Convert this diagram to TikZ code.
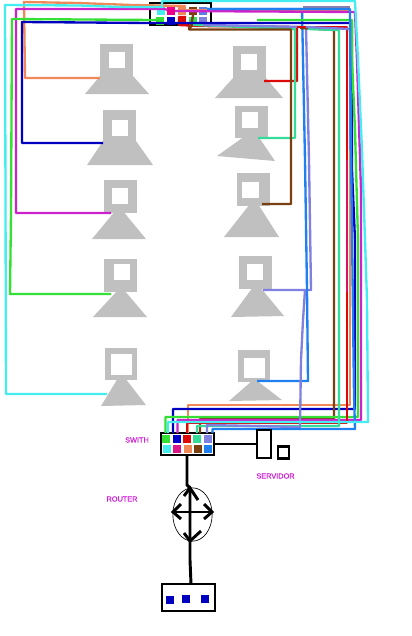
\documentclass[tikz,border=0pt]{standalone}
\usepackage{fontspec}
\usetikzlibrary{shapes.geometric}
\setmainfont{Liberation Sans}
\newfontfamily\lblfont[FakeBold=0.6]{Liberation Sans}
\definecolor{cCy}{HTML}{44EEF0}
\definecolor{cGr}{HTML}{33E033}
\definecolor{cMa}{HTML}{CC22CC}
\definecolor{cBl}{HTML}{0000C0}
\definecolor{cOr}{HTML}{F08858}
\definecolor{cRe}{HTML}{DD0808}
\definecolor{cTe}{HTML}{33DD99}
\definecolor{cPe}{HTML}{8080E0}
\definecolor{cSk}{HTML}{2080F0}
\definecolor{cBr}{HTML}{7A4010}
\definecolor{cGy}{HTML}{C0C0C0}
\definecolor{cLb}{HTML}{D022D8}
\tikzset{
  wire/.style={line width=1.75pt,line join=round},
  port/.style={minimum width=6pt,minimum height=6pt,inner sep=0pt,outer sep=0pt},
  black wire/.style={line width=2.2pt,black},
  heavy box/.style={draw=black,line width=1.7pt,fill=white,inner sep=0pt,outer sep=0pt},
  lbl/.style={text=cLb,font=\lblfont\fontsize{5.5}{6}\selectfont,inner sep=0pt},
  hub/.style={draw=black,line width=.8pt,inner sep=0pt,outer sep=0pt},
  pad/.style={fill=cBl,minimum width=6pt,minimum height=6pt,inner sep=0pt},
}
\newcommand{\pcshape}[6]{%
  \fill[cGy] #5;
  \fill[cGy] (#1,#2) rectangle (#3,#4);
  \fill[white] #6;
}
\begin{document}
\begin{tikzpicture}[x=0.75pt,y=-0.75pt]
\useasboundingbox (0,0) rectangle (411,636);
\fill[white] (0,0) rectangle (411,636);
% computers
\pcshape{100}{44}{133}{78}{(85,94)--(149,94)--(133,76)--(100,76)--cycle}{(109,52) rectangle (125,68)}
\pcshape{103}{110}{136}{143}{(87,165)--(153,165)--(136,141)--(103,141)--cycle}{(112,120) rectangle (128,136)}
\pcshape{104}{180}{137}{213}{(92,239)--(146,239)--(122,210)--(116,210)--cycle}{(112,188) rectangle (128,204)}
\pcshape{104}{259}{137}{292}{(93,317)--(147,317)--(124,290)--(118,290)--cycle}{(114,264) rectangle (130,280)}
\pcshape{105}{348}{137}{380}{(101,406)--(146,405)--(125,378)--(118,378)--cycle}{(111,354) rectangle (132,375)}
\pcshape{233}{46}{266}{79}{(215,98)--(283,98)--(266,78)--(233,78)--cycle}{(241,54) rectangle (257,70)}
\pcshape{235}{106}{268}{138}{(217,156)--(275,161)--(258,136)--(245,136)--cycle}{(242,112) rectangle (258,128)}
\pcshape{237}{173}{270}{206}{(224,237)--(279,237)--(258,204)--(250,204)--cycle}{(242,182) rectangle (259,198)}
\pcshape{239}{256}{272}{289}{(231,317)--(284,316)--(260,287)--(253,287)--cycle}{(247,264) rectangle (263,280)}
\pcshape{238}{350}{270}{382}{(229,401)--(282,400)--(256,380)--(253,380)--cycle}{(244,358) rectangle (265,378)}
% named wire ends at the computers
\coordinate (a1) at (100,78);
\coordinate (a2) at (103,143);
\coordinate (a3) at (111,213);
\coordinate (a4) at (111,294);
\coordinate (a5) at (107,394);
\coordinate (b1) at (264,81);
\coordinate (b2) at (258,138);
\coordinate (b3) at (262,204);
\coordinate (b4) at (263,290);
\coordinate (b5) at (257,381);
% top switch
\node[hub,minimum width=45.75pt,minimum height=16.5pt] (tsw) at (180.5,14) {};
\foreach \n/\x/\y/\c in {tCy/160.5/11/cCy,tMa/171/11/magenta,tOr/182/11/cOr,tBr/193/11/cBr,tSk/203/11/cPe!60!cSk,
                         tGr/160/21/cGr,tBl/171/21/cBl,tRe/182/21/cRe,tTe/193/21/cGr!60!cTe,tPe/203/21/cPe}
  \node[port,fill=\c] (\n) at (\x,\y) {};
% bottom switch
\node[hub,minimum width=39.75pt,minimum height=16.5pt,fill=white] (bsw) at (187.5,444) {};
\foreach \n/\x/\y/\c in {dGr/165.5/438.5/cGr,dBl/176.5/438.5/cBl!80!blue,dRe/186.5/438.5/cRe,dTe/197/438.5/cTe,dPe/207.5/438.5/cPe,
                         dCy/167/449/cCy,dMa/177/449/magenta!90!black,dOr/187.5/449/cOr,dBr/198/449/cBr,dSk/208/449/cSk}
  \node[port,fill=\c] (\n) at (\x,\y) {};
% computers to the top switch
\draw[wire,cOr] (a1) -- (25,78) -- (24,2) -- (78,3) -- (132,5) -- (185,6) -- (tOr.north);
\draw[wire,cBl] (a2) -- (22,143) -- (22,22) -- (150,23) -- (tBl.east |- 0,23);
\draw[wire,cMa] (a3) -- (16,213) -- (16,9) -- (165,9) -- (tMa.west |- 0,10);
\draw[wire,cGr] (a4) -- (10,294) -- (11,213) -- (12,19) -- (155,20) -- (tGr.east |- 0,20);
\draw[wire,cCy] (a5) -- (6,394) -- (5,5) -- (80,5.5) -- (120,7) -- (162,7) -- (tCy.north);
\draw[wire,cRe] (b1) -- (297,81) -- (297,27) -- (200,26) -- (179,25) -- (179,17) -- (tRe.north east);
\draw[wire,cTe] (b2) -- (295,138) -- (295,29) -- (270,28) -- (196,25) -- (tTe.south);
\draw[wire,cBr] (b3) -- (291,204) -- (291,29.5) -- (189,29.5) -- (189,27) -- (191,27) -- (tBr.south);
\draw[wire,cPe] (b4) -- (311,290) -- (309,160) -- (306,27) -- (205,25) -- (tPe.south);
\draw[wire,cSk] (b5) -- (308,381) -- (307,290) -- (305,160) -- (302,9) -- (tSk.east |- 0,9);
% trunk between the two switches
\draw[wire,cOr] (bsw.north -| 188,0) -- (188,405) -- (350,405) -- (350,10) -- (181,10);
\draw[wire,cBl] (bsw.north -| 173,0) -- (173,409) -- (355,409) -- (355,240) -- (352,170) -- (352,23) -- (tBl.east |- 0,23);
\draw[wire,cBr] (bsw.north -| 200,0) -- (200,419) -- (334,419) -- (334,30) -- (300,28);
\draw[wire,cGr] (bsw.north -| 165.5,0) -- (165.5,417) -- (358,417) -- (358,240) -- (355,130) -- (352,60) -- (352,20) -- (257,20);
\draw[wire,cMa] (bsw.north -| 177.5,0) -- (177.5,420) -- (361,420) -- (361,190) -- (357,60) -- (355,12) -- (tMa.east |- 0,11);
\draw[wire,cRe] (bsw.north -| 187,0) -- (187,422.5) -- (347,422.5) -- (347,27) -- (297,27);
\draw[wire,cTe] (bsw.north -| 197,0) -- (197,426) -- (339,426) -- (339,30) -- (308,29);
\draw[wire,cPe] (bsw.north -| 207,0) -- (207,425) -- (300,427) -- (301,360) -- (303,320) -- (305,290);
\draw[wire,cPe] (306,27) -- (350,29) -- (350,150);
\draw[wire,cMa!60!cRe,opacity=.75] (347,160) -- (347,292);
\draw[wire,cSk] (bsw.north -| 212.5,0) -- (212.5,429) -- (355,429) -- (354,395) -- (351,150) -- (350,9) -- (tSk.east |- 0,9);
\draw[wire,cCy] (bsw.north -| 168,0) -- (168,422) -- (368,422) -- (367,300) -- (362,150) -- (358,60) -- (355,1) -- (162,1) -- (162,7);
\draw[line width=1pt,cPe!50!gray] (303,7) -- (350,7);
% server
\node[heavy box,minimum width=10pt,minimum height=21pt] (srv) at (264,444) {};
\node[heavy box,minimum width=8.2pt,minimum height=9pt] (mon) at (283.5,452.5) {};
\draw[black wire] (bsw.east) -- (srv.west);
% router
\node[draw=black,line width=.5pt,ellipse,minimum width=29.5pt,minimum height=40pt,inner sep=0pt,outer sep=0pt] (rtr) at (192.5,514.5) {};
\coordinate (rN) at (190,488);
\coordinate (rS) at (190,541);
\coordinate (rW) at (173,512);
\coordinate (rE) at (212,512);
\node[heavy box,minimum width=39.75pt,minimum height=20.5pt] (modem) at (188.5,597.5) {};
\node[pad] (p1) at (170,600) {};
\node[pad] (p2) at (186,599) {};
\node[pad] (p3) at (205,599) {};
\draw[black wire] (bsw.south -| 187,0) -- (187,485) -- (rN) -- (rS) -- (190,560) -- (modem.north -| 191,0);
\draw[black wire] (rW) -- (rE);
\draw[black wire] (184,496) -- (rN) -- (198,500);
\draw[black wire] (181,504) -- (rW) -- (181,519);
\draw[black wire] (204,504) -- (rE) -- (204,519);
\draw[black wire] (184,533) -- (rS) -- (201,531);
% labels
\node[lbl] (l1) at (137,440) {SWITH};
\node[lbl] (l2) at (275.5,476) {SERVIDOR};
\node[lbl] (l3) at (122,499) {ROUTER};
\end{tikzpicture}
\end{document}
